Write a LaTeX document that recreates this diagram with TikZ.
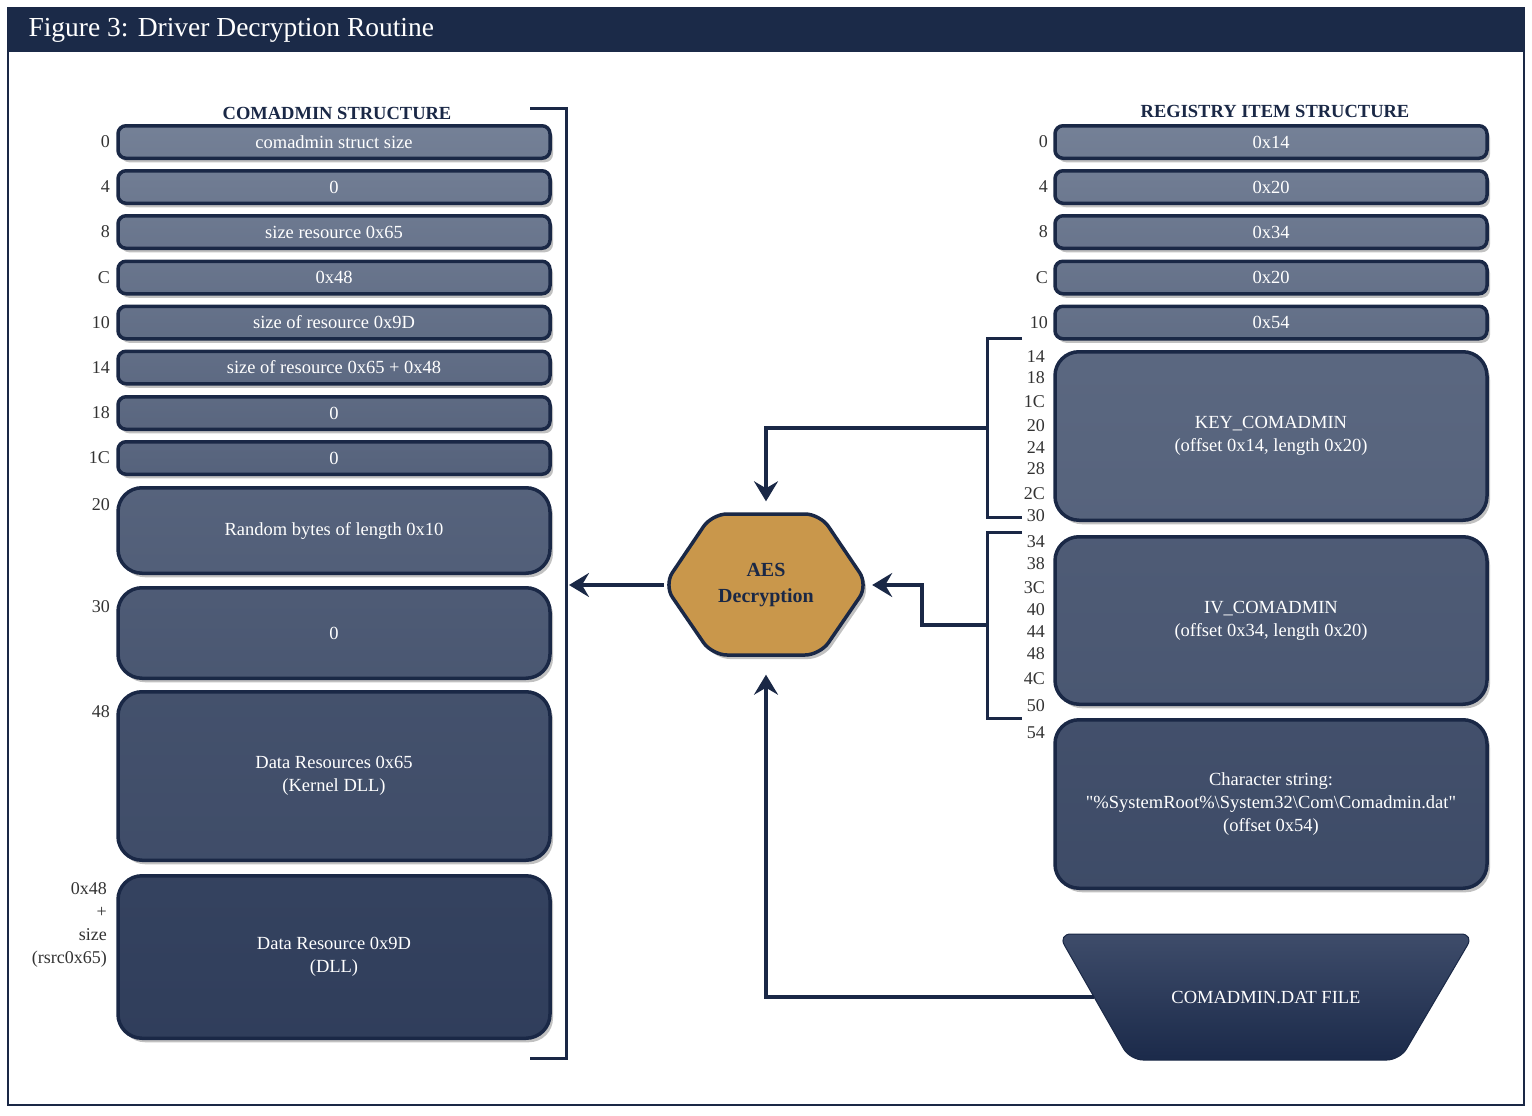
\documentclass[tikz,border=0pt]{standalone}
\usepackage{fontspec}
\setmainfont{Liberation Serif}[Ligatures=TeXOff]
\usetikzlibrary{shadows,arrows.meta}

\definecolor{navyline}{RGB}{26,40,70}
\definecolor{slatetop}{RGB}{118,130,152}
\definecolor{slatebot}{RGB}{42,56,86}
\definecolor{aesgold}{RGB}{201,151,75}
\definecolor{titlebar}{RGB}{27,42,72}
\definecolor{filetop}{RGB}{62,76,106}
\definecolor{filebot}{RGB}{27,42,74}

\tikzset{
    cell/.style={rectangle, draw=navyline, line width=3.5pt, rounded corners=8pt,
        minimum width=432pt, text=white, align=center,
        font=\fontsize{18.5}{23}\selectfont,
        drop shadow={shadow xshift=3pt, shadow yshift=-4pt, fill=black!30, opacity=.8}},
    bigcell/.style={cell, rounded corners=24pt},
    offset/.style={anchor=east, inner sep=0pt, text=black!80, font=\fontsize{18}{23}\selectfont},
    heading/.style={text=navyline, font=\bfseries\fontsize{18.5}{20}\selectfont},
    bracket/.style={draw=navyline, line width=3pt},
    arr/.style={draw=navyline, line width=3.5pt, -{Stealth[length=20pt,width=24pt,inset=7pt]}}
}

% one field of a structure: name, style, x, y, height, shade, text
\newcommand{\structcell}[7]{
    \pgfmathtruncatemacro{\pa}{#6}
    \pgfmathtruncatemacro{\pb}{#6+6}
    \node[#2, minimum height=#5pt, top color=slatebot!\pa!slatetop,
        bottom color=slatebot!\pb!slatetop] (#1) at (#3,#4) {#7};
}

\begin{document}
\begin{tikzpicture}[x=1pt, y=-1pt]
    \useasboundingbox (0,0) rectangle (1532,1116);

    % Frame and title
    \fill[white] (0,0) rectangle (1532,1116);
    \draw[navyline, line width=2pt] (8,8) rectangle (1524,1105);
    \fill[titlebar] (8,8) rectangle (1524,52);
    \node[anchor=west, text=white, font=\fontsize{27.5}{30}\selectfont] (title) at (25,30)
        {Figure 3: Driver Decryption Routine};

    % COMADMIN structure
    \node[heading] (comhead) at (337,113) {COMADMIN STRUCTURE};
    \foreach \nm/\cy/\p/\lbl/\txt in {
        c0/142/2/0/comadmin struct size,
        c4/187/7/4/0,
        c8/232/12/8/size resource 0x65,
        cC/277.5/17/C/0x48,
        c10/322.5/22/10/size of resource 0x9D,
        c14/367.5/27/14/size of resource 0x65 + 0x48,
        c18/413/32/18/0,
        c1C/458/37/1C/0} {
        \structcell{\nm}{cell}{334}{\cy}{32.5}{\p}{\txt}
        \node[offset] (off\nm) at (110,\cy) {\lbl};
    }
    \structcell{c20}{bigcell}{334}{530.5}{85.5}{42}{Random bytes of length 0x10}
    \structcell{c30}{bigcell}{334}{633}{90.5}{52}{0}
    \structcell{c48}{bigcell}{334}{776}{168.5}{66}{Data Resources 0x65\\(Kernel DLL)}
    \structcell{crsrc}{bigcell}{334}{957}{162.5}{86}{Data Resource 0x9D\\(DLL)}
    \node[offset] (offc20) at (110,505) {20};
    \node[offset] (offc30) at (110,607) {30};
    \node[offset] (offc48) at (110,712) {48};
    \node[offset, anchor=north east, align=right] (offcrsrc) at (107,882)
        {0x48\\+\\size\\(rsrc0x65)};
    \draw[bracket] (530,108) -- (566,108) -- (566,1058) -- (530,1058);
    \coordinate (combr) at (569,585);

    % Registry item structure
    \node[heading] (reghead) at (1275,111) {REGISTRY ITEM STRUCTURE};
    \foreach \nm/\cy/\p/\lbl/\txt in {
        r0/142/2/0/0x14,
        r4/187/7/4/0x20,
        r8/232/12/8/0x34,
        rC/277.5/17/C/0x20,
        r10/322.5/22/10/0x54} {
        \structcell{\nm}{cell}{1271}{\cy}{32.5}{\p}{\txt}
        \node[offset] (off\nm) at (1048,\cy) {\lbl};
    }
    \structcell{rkey}{bigcell}{1271}{436}{168.5}{36}{KEY\_COMADMIN\\(offset 0x14, length 0x20)}
    \structcell{riv}{bigcell}{1271}{620.5}{167.5}{52}{IV\_COMADMIN\\(offset 0x34, length 0x20)}
    \structcell{rstr}{bigcell}{1271}{804}{168.5}{68}{Character string:\\
        "\%SystemRoot\%\textbackslash System32\textbackslash Com\textbackslash Comadmin.dat"\\(offset 0x54)}
    \foreach \lbl/\ly in {14/357, 18/378, 1C/402, 20/426, 24/448, 28/469, 2C/494, 30/516,
        34/542, 38/564, 3C/588, 40/610, 44/632, 48/654, 4C/679, 50/706, 54/733}
        \node[offset] (roff\lbl) at (1045,\ly) {\lbl};
    \draw[bracket] (1022,338) -- (987,338) -- (987,517) -- (1022,517);
    \draw[bracket] (1022,532) -- (987,532) -- (987,718) -- (1022,718);
    \coordinate (keybr) at (987,428);
    \coordinate (ivbr) at (987,625);

    % AES decryption
    \draw[fill=aesgold, draw=navyline, line width=3.5pt, rounded corners=15pt,
        drop shadow={shadow xshift=3pt, shadow yshift=-4pt, fill=black!30, opacity=.8}]
        (664,585) -- (712,514) -- (820,514) -- (868,585) -- (820,655) -- (712,655) -- cycle;
    \node[align=center, text=navyline, minimum width=204pt, minimum height=141pt,
        font=\bfseries\fontsize{20}{26}\selectfont] (aes) at (766,585) {AES\\Decryption};

    % Comadmin.dat file
    \shade[top color=filetop, bottom color=filebot, draw=navyline, line width=1pt,
        rounded corners=13pt]
        (1058,934) -- (1474,934) -- (1400,1060) -- (1130,1060) -- cycle;
    \node[minimum width=344pt, minimum height=40pt, text=white,
        font=\fontsize{18.5}{22}\selectfont] (datfile) at (1266,997) {COMADMIN.DAT FILE};

    % Arrows
    \draw[arr] (aes.west) -- (combr);
    \draw[arr, shorten >=13pt] (keybr) -| (aes.north);
    \draw[arr] (ivbr) -- ++(-65,0) |- ([xshift=4pt]aes.east);
    \draw[arr, shorten >=19pt] (datfile.west) -| (aes.south);
\end{tikzpicture}
\end{document}
